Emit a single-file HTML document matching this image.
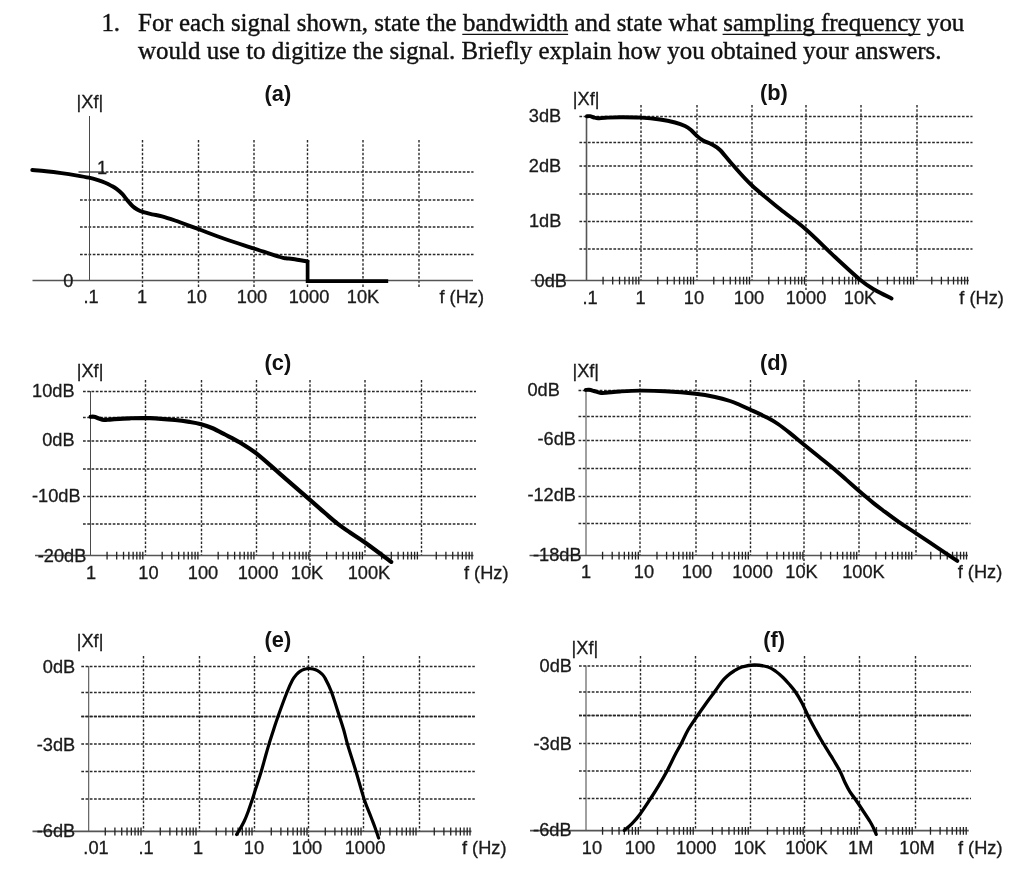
<!DOCTYPE html>
<html lang="en"><head><meta charset="utf-8"><title>Signals</title>
<style>html,body{margin:0;padding:0;background:#fff}svg{display:block}</style></head>
<body>
<svg width="1024" height="893" viewBox="0 0 1024 893">
<rect x="0" y="0" width="1024" height="893" fill="#fff"/>
<g>
<g font-family="'Liberation Sans', Arial, Helvetica, sans-serif" fill="#1a1a1a" stroke-linecap="butt">
<path d="M80.00,200.00 H473.50" stroke="#2a2a2a" stroke-width="1.5" stroke-dasharray="2.7 1.55" fill="none"/>
<path d="M80.00,227.00 H473.50" stroke="#2a2a2a" stroke-width="1.5" stroke-dasharray="2.7 1.55" fill="none"/>
<path d="M80.00,254.50 H473.50" stroke="#2a2a2a" stroke-width="1.5" stroke-dasharray="2.7 1.55" fill="none"/>
<path d="M142.50,140.00 V287.00" stroke="#2a2a2a" stroke-width="1.4" stroke-dasharray="2.5 1.75" fill="none"/>
<path d="M198.50,140.00 V287.00" stroke="#2a2a2a" stroke-width="1.4" stroke-dasharray="2.5 1.75" fill="none"/>
<path d="M254.00,140.00 V287.00" stroke="#2a2a2a" stroke-width="1.4" stroke-dasharray="2.5 1.75" fill="none"/>
<path d="M307.50,140.00 V287.00" stroke="#2a2a2a" stroke-width="1.4" stroke-dasharray="2.5 1.75" fill="none"/>
<path d="M363.00,140.00 V287.00" stroke="#2a2a2a" stroke-width="1.4" stroke-dasharray="2.5 1.75" fill="none"/>
<path d="M419.00,140.00 V287.00" stroke="#2a2a2a" stroke-width="1.4" stroke-dasharray="2.5 1.75" fill="none"/>
<path d="M89.50,116.00 V280.50" stroke="#4a4a4a" stroke-width="1.05" fill="none"/>
<path d="M32.50,280.50 H473.00" stroke="#555" stroke-width="1.7" fill="none"/>
<path d="M78.5,172 H101.5" stroke="#444" stroke-width="1.4" fill="none"/>
<path d="M101.5,172 H473.5" stroke="#2a2a2a" stroke-width="1.5" stroke-dasharray="2.7 1.55" fill="none"/>
<path d="M32.30,170.00 C34.58,170.20 41.13,170.68 46.00,171.20 C50.87,171.72 56.50,172.42 61.50,173.10 C66.50,173.78 71.42,174.53 76.00,175.30 C80.58,176.07 85.33,176.88 89.00,177.70 C92.67,178.52 95.30,179.35 98.00,180.20 C100.70,181.05 103.03,181.90 105.20,182.80 C107.37,183.70 109.12,184.58 111.00,185.60 C112.88,186.62 114.55,187.43 116.50,188.90 C118.45,190.37 120.93,192.55 122.70,194.40 C124.47,196.25 125.43,198.03 127.10,200.00 C128.77,201.97 130.93,204.58 132.70,206.20 C134.47,207.82 136.03,208.75 137.70,209.70 C139.37,210.65 140.32,211.13 142.70,211.90 C145.08,212.67 148.78,213.57 152.00,214.30 C155.22,215.03 158.17,215.27 162.00,216.30 C165.83,217.33 169.00,218.38 175.00,220.50 C181.00,222.62 189.67,225.92 198.00,229.00 C206.33,232.08 215.67,235.75 225.00,239.00 C234.33,242.25 244.83,245.50 254.00,248.50 C263.17,251.50 274.67,255.37 280.00,257.00 C285.33,258.63 283.83,257.97 286.00,258.30 C288.17,258.63 289.45,258.47 293.00,259.00 C296.55,259.53 304.92,261.08 307.30,261.50" stroke="#000" stroke-width="3.9" fill="none" stroke-linecap="round" stroke-linejoin="round"/>
<path d="M307.6,260 V281.2 H388.2" stroke="#000" stroke-width="3.7" fill="none" stroke-linejoin="miter"/>
<text transform="translate(76.60,108.40) scale(1.030,1)" text-anchor="start" font-size="17.70" stroke="#1a1a1a" stroke-width="0.3">|Xf|</text>
<text transform="translate(97.00,174.00) scale(1.030,1)" text-anchor="start" font-size="17.70" stroke="#1a1a1a" stroke-width="0.3">1</text>
<text transform="translate(63.30,287.00) scale(1.030,1)" text-anchor="start" font-size="17.70" stroke="#1a1a1a" stroke-width="0.3">0</text>
<text transform="translate(91.00,303.40) scale(1.030,1)" text-anchor="middle" font-size="17.70" stroke="#1a1a1a" stroke-width="0.3">.1</text>
<text transform="translate(142.00,303.40) scale(1.030,1)" text-anchor="middle" font-size="17.70" stroke="#1a1a1a" stroke-width="0.3">1</text>
<text transform="translate(196.70,303.40) scale(1.030,1)" text-anchor="middle" font-size="17.70" stroke="#1a1a1a" stroke-width="0.3">10</text>
<text transform="translate(252.00,303.40) scale(1.030,1)" text-anchor="middle" font-size="17.70" stroke="#1a1a1a" stroke-width="0.3">100</text>
<text transform="translate(309.00,303.40) scale(1.030,1)" text-anchor="middle" font-size="17.70" stroke="#1a1a1a" stroke-width="0.3">1000</text>
<text transform="translate(363.00,303.40) scale(1.030,1)" text-anchor="middle" font-size="17.70" stroke="#1a1a1a" stroke-width="0.3">10K</text>
<text transform="translate(439.50,303.40) scale(1.030,1)" text-anchor="start" font-size="17.70" stroke="#1a1a1a" stroke-width="0.3">f (Hz)</text>
<text x="264.60" y="100.60" font-size="21.80" font-weight="bold" fill="#111">(a)</text>
<path d="M579.40,116.50 H972.50" stroke="#2a2a2a" stroke-width="1.5" stroke-dasharray="2.7 1.55" fill="none"/>
<path d="M579.40,142.50 H972.50" stroke="#2a2a2a" stroke-width="1.5" stroke-dasharray="2.7 1.55" fill="none"/>
<path d="M579.40,166.00 H972.50" stroke="#2a2a2a" stroke-width="1.5" stroke-dasharray="2.7 1.55" fill="none"/>
<path d="M579.40,194.00 H972.50" stroke="#2a2a2a" stroke-width="1.5" stroke-dasharray="2.7 1.55" fill="none"/>
<path d="M579.40,221.50 H972.50" stroke="#2a2a2a" stroke-width="1.5" stroke-dasharray="2.7 1.55" fill="none"/>
<path d="M579.40,249.00 H972.50" stroke="#2a2a2a" stroke-width="1.5" stroke-dasharray="2.7 1.55" fill="none"/>
<path d="M641.00,105.00 V280.00" stroke="#2a2a2a" stroke-width="1.4" stroke-dasharray="2.5 1.75" fill="none"/>
<path d="M697.00,105.00 V280.00" stroke="#2a2a2a" stroke-width="1.4" stroke-dasharray="2.5 1.75" fill="none"/>
<path d="M752.00,105.00 V280.00" stroke="#2a2a2a" stroke-width="1.4" stroke-dasharray="2.5 1.75" fill="none"/>
<path d="M806.00,105.00 V290.00" stroke="#2a2a2a" stroke-width="1.4" stroke-dasharray="2.5 1.75" fill="none"/>
<path d="M861.00,105.00 V280.00" stroke="#2a2a2a" stroke-width="1.4" stroke-dasharray="2.5 1.75" fill="none"/>
<path d="M917.00,105.00 V280.00" stroke="#2a2a2a" stroke-width="1.4" stroke-dasharray="2.5 1.75" fill="none"/>
<path d="M586.50,115.00 V280.50" stroke="#555" stroke-width="1.6" fill="none"/>
<path d="M530.70,280.50 H969.00" stroke="#555" stroke-width="1.7" fill="none"/>
<path d="M603.07,276.80V284.60M612.70,276.80V284.60M619.53,276.80V284.60M624.83,276.80V284.60M629.16,276.80V284.60M632.83,276.80V284.60M636.00,276.80V284.60M638.80,276.80V284.60M657.77,276.80V284.60M667.40,276.80V284.60M674.23,276.80V284.60M679.53,276.80V284.60M683.86,276.80V284.60M687.53,276.80V284.60M690.70,276.80V284.60M693.50,276.80V284.60M713.77,276.80V284.60M723.40,276.80V284.60M730.23,276.80V284.60M735.53,276.80V284.60M739.86,276.80V284.60M743.53,276.80V284.60M746.70,276.80V284.60M749.50,276.80V284.60M768.77,276.80V284.60M778.40,276.80V284.60M785.23,276.80V284.60M790.53,276.80V284.60M794.86,276.80V284.60M798.53,276.80V284.60M801.70,276.80V284.60M804.50,276.80V284.60M822.77,276.80V284.60M832.40,276.80V284.60M839.23,276.80V284.60M844.53,276.80V284.60M848.86,276.80V284.60M852.53,276.80V284.60M855.70,276.80V284.60M858.50,276.80V284.60M877.77,276.80V284.60M887.40,276.80V284.60M894.23,276.80V284.60M899.53,276.80V284.60M903.86,276.80V284.60M907.53,276.80V284.60M910.70,276.80V284.60M913.50,276.80V284.60M931.77,276.80V284.60M941.40,276.80V284.60M948.23,276.80V284.60M953.53,276.80V284.60M957.86,276.80V284.60M961.53,276.80V284.60M964.70,276.80V284.60M967.50,276.80V284.60" stroke="#222" stroke-width="1.3" fill="none"/>
<path d="M587.00,116.30 C587.50,116.28 588.83,116.00 590.00,116.20 C591.17,116.40 592.67,117.15 594.00,117.50 C595.33,117.85 596.17,118.25 598.00,118.30 C599.83,118.35 601.33,117.98 605.00,117.80 C608.67,117.62 614.00,117.23 620.00,117.20 C626.00,117.17 634.33,117.22 641.00,117.60 C647.67,117.98 654.33,118.68 660.00,119.50 C665.67,120.32 670.83,121.42 675.00,122.50 C679.17,123.58 682.33,124.75 685.00,126.00 C687.67,127.25 689.00,128.33 691.00,130.00 C693.00,131.67 695.00,134.25 697.00,136.00 C699.00,137.75 700.50,139.08 703.00,140.50 C705.50,141.92 709.17,142.92 712.00,144.50 C714.83,146.08 716.67,146.75 720.00,150.00 C723.33,153.25 726.67,158.08 732.00,164.00 C737.33,169.92 744.00,178.00 752.00,185.50 C760.00,193.00 771.00,201.67 780.00,209.00 C789.00,216.33 796.83,221.50 806.00,229.50 C815.17,237.50 825.83,248.50 835.00,257.00 C844.17,265.50 854.33,275.00 861.00,280.50 C867.67,286.00 869.92,287.00 875.00,290.00 C880.08,293.00 888.75,297.08 891.50,298.50" stroke="#000" stroke-width="3.9" fill="none" stroke-linecap="round" stroke-linejoin="round"/>
<text transform="translate(572.80,105.20) scale(1.030,1)" text-anchor="start" font-size="17.70" stroke="#1a1a1a" stroke-width="0.3">|Xf|</text>
<text transform="translate(561.20,122.10) scale(1.030,1)" text-anchor="end" font-size="17.70" stroke="#1a1a1a" stroke-width="0.3">3dB</text>
<text transform="translate(561.20,172.10) scale(1.030,1)" text-anchor="end" font-size="17.70" stroke="#1a1a1a" stroke-width="0.3">2dB</text>
<text transform="translate(561.30,227.00) scale(1.030,1)" text-anchor="end" font-size="17.70" stroke="#1a1a1a" stroke-width="0.3">1dB</text>
<text transform="translate(567.00,286.60) scale(1.030,1)" text-anchor="end" font-size="17.70" stroke="#1a1a1a" stroke-width="0.3">0dB</text>
<text transform="translate(590.00,303.60) scale(1.030,1)" text-anchor="middle" font-size="17.70" stroke="#1a1a1a" stroke-width="0.3">.1</text>
<text transform="translate(640.50,303.60) scale(1.030,1)" text-anchor="middle" font-size="17.70" stroke="#1a1a1a" stroke-width="0.3">1</text>
<text transform="translate(694.00,303.60) scale(1.030,1)" text-anchor="middle" font-size="17.70" stroke="#1a1a1a" stroke-width="0.3">10</text>
<text transform="translate(749.00,303.60) scale(1.030,1)" text-anchor="middle" font-size="17.70" stroke="#1a1a1a" stroke-width="0.3">100</text>
<text transform="translate(806.00,303.60) scale(1.030,1)" text-anchor="middle" font-size="17.70" stroke="#1a1a1a" stroke-width="0.3">1000</text>
<text transform="translate(860.00,303.60) scale(1.030,1)" text-anchor="middle" font-size="17.70" stroke="#1a1a1a" stroke-width="0.3">10K</text>
<text transform="translate(959.30,303.60) scale(1.030,1)" text-anchor="start" font-size="17.70" stroke="#1a1a1a" stroke-width="0.3">f (Hz)</text>
<text x="760.00" y="100.00" font-size="21.80" font-weight="bold" fill="#111">(b)</text>
<path d="M83.00,391.50 H476.00" stroke="#2a2a2a" stroke-width="1.5" stroke-dasharray="2.7 1.55" fill="none"/>
<path d="M83.00,417.50 H476.00" stroke="#2a2a2a" stroke-width="1.5" stroke-dasharray="2.7 1.55" fill="none"/>
<path d="M83.00,441.00 H476.00" stroke="#2a2a2a" stroke-width="1.5" stroke-dasharray="2.7 1.55" fill="none"/>
<path d="M83.00,469.00 H476.00" stroke="#2a2a2a" stroke-width="1.5" stroke-dasharray="2.7 1.55" fill="none"/>
<path d="M83.00,496.50 H476.00" stroke="#2a2a2a" stroke-width="1.5" stroke-dasharray="2.7 1.55" fill="none"/>
<path d="M83.00,524.00 H476.00" stroke="#2a2a2a" stroke-width="1.5" stroke-dasharray="2.7 1.55" fill="none"/>
<path d="M145.50,380.00 V555.50" stroke="#2a2a2a" stroke-width="1.4" stroke-dasharray="2.5 1.75" fill="none"/>
<path d="M201.50,380.00 V555.50" stroke="#2a2a2a" stroke-width="1.4" stroke-dasharray="2.5 1.75" fill="none"/>
<path d="M256.50,380.00 V555.50" stroke="#2a2a2a" stroke-width="1.4" stroke-dasharray="2.5 1.75" fill="none"/>
<path d="M310.00,380.00 V568.00" stroke="#2a2a2a" stroke-width="1.4" stroke-dasharray="2.5 1.75" fill="none"/>
<path d="M365.00,380.00 V555.50" stroke="#2a2a2a" stroke-width="1.4" stroke-dasharray="2.5 1.75" fill="none"/>
<path d="M421.50,380.00 V555.50" stroke="#2a2a2a" stroke-width="1.4" stroke-dasharray="2.5 1.75" fill="none"/>
<path d="M90.50,391.00 V555.50" stroke="#4a4a4a" stroke-width="1.05" fill="none"/>
<path d="M35.00,555.50 H473.50" stroke="#555" stroke-width="1.7" fill="none"/>
<path d="M107.07,551.80V559.60M116.70,551.80V559.60M123.53,551.80V559.60M128.83,551.80V559.60M133.16,551.80V559.60M136.83,551.80V559.60M140.00,551.80V559.60M142.80,551.80V559.60M162.17,551.80V559.60M171.80,551.80V559.60M178.63,551.80V559.60M183.93,551.80V559.60M188.26,551.80V559.60M191.93,551.80V559.60M195.10,551.80V559.60M197.90,551.80V559.60M218.17,551.80V559.60M227.80,551.80V559.60M234.63,551.80V559.60M239.93,551.80V559.60M244.26,551.80V559.60M247.93,551.80V559.60M251.10,551.80V559.60M253.90,551.80V559.60M273.17,551.80V559.60M282.80,551.80V559.60M289.63,551.80V559.60M294.93,551.80V559.60M299.26,551.80V559.60M302.93,551.80V559.60M306.10,551.80V559.60M308.90,551.80V559.60M326.67,551.80V559.60M336.30,551.80V559.60M343.13,551.80V559.60M348.43,551.80V559.60M352.76,551.80V559.60M356.43,551.80V559.60M359.60,551.80V559.60M362.40,551.80V559.60M381.67,551.80V559.60M391.30,551.80V559.60M398.13,551.80V559.60M403.43,551.80V559.60M407.76,551.80V559.60M411.43,551.80V559.60M414.60,551.80V559.60M417.40,551.80V559.60M436.27,551.80V559.60M445.90,551.80V559.60M452.73,551.80V559.60M458.03,551.80V559.60M462.36,551.80V559.60M466.03,551.80V559.60M469.20,551.80V559.60M472.00,551.80V559.60" stroke="#222" stroke-width="1.3" fill="none"/>
<path d="M90.60,416.80 C91.17,416.80 92.60,416.52 94.00,416.80 C95.40,417.08 97.33,417.97 99.00,418.50 C100.67,419.03 101.83,419.87 104.00,420.00 C106.17,420.13 107.67,419.58 112.00,419.30 C116.33,419.02 123.67,418.48 130.00,418.30 C136.33,418.12 142.50,417.92 150.00,418.20 C157.50,418.48 168.33,419.37 175.00,420.00 C181.67,420.63 185.67,421.30 190.00,422.00 C194.33,422.70 197.33,423.20 201.00,424.20 C204.67,425.20 208.00,426.28 212.00,428.00 C216.00,429.72 220.33,432.08 225.00,434.50 C229.67,436.92 234.83,439.38 240.00,442.50 C245.17,445.62 249.33,447.98 256.00,453.20 C262.67,458.42 271.10,466.10 280.00,473.80 C288.90,481.50 301.90,492.87 309.40,499.40 C316.90,505.93 320.32,508.97 325.00,513.00 C329.68,517.03 333.33,520.35 337.50,523.60 C341.67,526.85 345.42,529.35 350.00,532.50 C354.58,535.65 358.13,537.60 365.00,542.50 C371.87,547.40 386.83,558.67 391.20,561.90" stroke="#000" stroke-width="4.2" fill="none" stroke-linecap="round" stroke-linejoin="round"/>
<text transform="translate(76.70,377.20) scale(1.030,1)" text-anchor="start" font-size="17.70" stroke="#1a1a1a" stroke-width="0.3">|Xf|</text>
<text transform="translate(74.60,397.20) scale(1.030,1)" text-anchor="end" font-size="17.70" stroke="#1a1a1a" stroke-width="0.3">10dB</text>
<text transform="translate(74.60,446.20) scale(1.030,1)" text-anchor="end" font-size="17.70" stroke="#1a1a1a" stroke-width="0.3">0dB</text>
<text transform="translate(80.60,502.20) scale(1.030,1)" text-anchor="end" font-size="17.70" stroke="#1a1a1a" stroke-width="0.3">-10dB</text>
<text transform="translate(86.40,562.00) scale(1.030,1)" text-anchor="end" font-size="17.70" stroke="#1a1a1a" stroke-width="0.3">-20dB</text>
<text transform="translate(91.00,578.70) scale(1.030,1)" text-anchor="middle" font-size="17.70" stroke="#1a1a1a" stroke-width="0.3">1</text>
<text transform="translate(148.50,578.70) scale(1.030,1)" text-anchor="middle" font-size="17.70" stroke="#1a1a1a" stroke-width="0.3">10</text>
<text transform="translate(203.00,578.70) scale(1.030,1)" text-anchor="middle" font-size="17.70" stroke="#1a1a1a" stroke-width="0.3">100</text>
<text transform="translate(258.00,578.70) scale(1.030,1)" text-anchor="middle" font-size="17.70" stroke="#1a1a1a" stroke-width="0.3">1000</text>
<text transform="translate(307.00,578.70) scale(1.030,1)" text-anchor="middle" font-size="17.70" stroke="#1a1a1a" stroke-width="0.3">10K</text>
<text transform="translate(369.00,578.70) scale(1.030,1)" text-anchor="middle" font-size="17.70" stroke="#1a1a1a" stroke-width="0.3">100K</text>
<text transform="translate(464.00,578.70) scale(1.030,1)" text-anchor="start" font-size="17.70" stroke="#1a1a1a" stroke-width="0.3">f (Hz)</text>
<text x="264.60" y="370.00" font-size="21.80" font-weight="bold" fill="#111">(c)</text>
<path d="M578.50,390.50 H970.50" stroke="#2a2a2a" stroke-width="1.5" stroke-dasharray="2.7 1.55" fill="none"/>
<path d="M578.50,416.50 H970.50" stroke="#2a2a2a" stroke-width="1.5" stroke-dasharray="2.7 1.55" fill="none"/>
<path d="M578.50,440.50 H970.50" stroke="#2a2a2a" stroke-width="1.5" stroke-dasharray="2.7 1.55" fill="none"/>
<path d="M578.50,468.50 H970.50" stroke="#2a2a2a" stroke-width="1.5" stroke-dasharray="2.7 1.55" fill="none"/>
<path d="M578.50,496.50 H970.50" stroke="#2a2a2a" stroke-width="1.5" stroke-dasharray="2.7 1.55" fill="none"/>
<path d="M578.50,523.50 H970.50" stroke="#2a2a2a" stroke-width="1.5" stroke-dasharray="2.7 1.55" fill="none"/>
<path d="M640.00,380.00 V555.00" stroke="#2a2a2a" stroke-width="1.4" stroke-dasharray="2.5 1.75" fill="none"/>
<path d="M696.00,380.00 V555.00" stroke="#2a2a2a" stroke-width="1.4" stroke-dasharray="2.5 1.75" fill="none"/>
<path d="M750.50,380.00 V555.00" stroke="#2a2a2a" stroke-width="1.4" stroke-dasharray="2.5 1.75" fill="none"/>
<path d="M804.00,380.00 V568.00" stroke="#2a2a2a" stroke-width="1.4" stroke-dasharray="2.5 1.75" fill="none"/>
<path d="M859.00,380.00 V555.00" stroke="#2a2a2a" stroke-width="1.4" stroke-dasharray="2.5 1.75" fill="none"/>
<path d="M916.00,380.00 V555.00" stroke="#2a2a2a" stroke-width="1.4" stroke-dasharray="2.5 1.75" fill="none"/>
<path d="M586.00,390.00 V555.50" stroke="#4a4a4a" stroke-width="1.05" fill="none"/>
<path d="M529.50,555.50 H968.00" stroke="#555" stroke-width="1.7" fill="none"/>
<path d="M602.57,551.80V559.60M612.20,551.80V559.60M619.03,551.80V559.60M624.33,551.80V559.60M628.66,551.80V559.60M632.33,551.80V559.60M635.50,551.80V559.60M638.30,551.80V559.60M656.97,551.80V559.60M666.60,551.80V559.60M673.43,551.80V559.60M678.73,551.80V559.60M683.06,551.80V559.60M686.73,551.80V559.60M689.90,551.80V559.60M692.70,551.80V559.60M712.57,551.80V559.60M722.20,551.80V559.60M729.03,551.80V559.60M734.33,551.80V559.60M738.66,551.80V559.60M742.33,551.80V559.60M745.50,551.80V559.60M748.30,551.80V559.60M767.17,551.80V559.60M776.80,551.80V559.60M783.63,551.80V559.60M788.93,551.80V559.60M793.26,551.80V559.60M796.93,551.80V559.60M800.10,551.80V559.60M802.90,551.80V559.60M820.97,551.80V559.60M830.60,551.80V559.60M837.43,551.80V559.60M842.73,551.80V559.60M847.06,551.80V559.60M850.73,551.80V559.60M853.90,551.80V559.60M856.70,551.80V559.60M875.97,551.80V559.60M885.60,551.80V559.60M892.43,551.80V559.60M897.73,551.80V559.60M902.06,551.80V559.60M905.73,551.80V559.60M908.90,551.80V559.60M911.70,551.80V559.60M930.77,551.80V559.60M940.40,551.80V559.60M947.23,551.80V559.60M952.53,551.80V559.60M956.86,551.80V559.60M960.53,551.80V559.60M963.70,551.80V559.60M966.50,551.80V559.60" stroke="#222" stroke-width="1.3" fill="none"/>
<path d="M585.80,390.00 C586.33,389.97 587.63,389.63 589.00,389.80 C590.37,389.97 592.17,390.50 594.00,391.00 C595.83,391.50 598.00,392.50 600.00,392.80 C602.00,393.10 602.67,393.02 606.00,392.80 C609.33,392.58 614.33,391.87 620.00,391.50 C625.67,391.13 632.50,390.65 640.00,390.60 C647.50,390.55 655.72,390.67 665.00,391.20 C674.28,391.73 687.37,392.83 695.70,393.80 C704.03,394.77 709.28,395.80 715.00,397.00 C720.72,398.20 725.83,399.67 730.00,401.00 C734.17,402.33 736.67,403.58 740.00,405.00 C743.33,406.42 745.33,407.33 750.00,409.50 C754.67,411.67 763.33,415.58 768.00,418.00 C772.67,420.42 774.33,421.48 778.00,424.00 C781.67,426.52 785.60,429.60 790.00,433.10 C794.40,436.60 799.57,441.05 804.40,445.00 C809.23,448.95 814.12,452.85 819.00,456.80 C823.88,460.75 829.12,464.85 833.70,468.70 C838.28,472.55 842.22,476.15 846.50,479.90 C850.78,483.65 856.32,488.50 859.40,491.20 C862.48,493.90 862.65,494.12 865.00,496.10 C867.35,498.08 870.58,500.78 873.50,503.10 C876.42,505.42 878.30,506.87 882.50,510.00 C886.70,513.13 893.03,517.97 898.70,521.90 C904.37,525.83 910.12,529.37 916.50,533.60 C922.88,537.83 930.20,542.75 937.00,547.30 C943.80,551.85 953.92,558.63 957.30,560.90" stroke="#000" stroke-width="3.9" fill="none" stroke-linecap="round" stroke-linejoin="round"/>
<text transform="translate(572.40,377.20) scale(1.030,1)" text-anchor="start" font-size="17.70" stroke="#1a1a1a" stroke-width="0.3">|Xf|</text>
<text transform="translate(559.80,396.00) scale(1.030,1)" text-anchor="end" font-size="17.70" stroke="#1a1a1a" stroke-width="0.3">0dB</text>
<text transform="translate(576.00,445.00) scale(1.030,1)" text-anchor="end" font-size="17.70" stroke="#1a1a1a" stroke-width="0.3">-6dB</text>
<text transform="translate(576.00,501.20) scale(1.030,1)" text-anchor="end" font-size="17.70" stroke="#1a1a1a" stroke-width="0.3">-12dB</text>
<text transform="translate(581.60,561.20) scale(1.030,1)" text-anchor="end" font-size="17.70" stroke="#1a1a1a" stroke-width="0.3">-18dB</text>
<text transform="translate(586.00,577.70) scale(1.030,1)" text-anchor="middle" font-size="17.70" stroke="#1a1a1a" stroke-width="0.3">1</text>
<text transform="translate(644.00,577.70) scale(1.030,1)" text-anchor="middle" font-size="17.70" stroke="#1a1a1a" stroke-width="0.3">10</text>
<text transform="translate(697.00,577.70) scale(1.030,1)" text-anchor="middle" font-size="17.70" stroke="#1a1a1a" stroke-width="0.3">100</text>
<text transform="translate(752.50,577.70) scale(1.030,1)" text-anchor="middle" font-size="17.70" stroke="#1a1a1a" stroke-width="0.3">1000</text>
<text transform="translate(801.50,577.70) scale(1.030,1)" text-anchor="middle" font-size="17.70" stroke="#1a1a1a" stroke-width="0.3">10K</text>
<text transform="translate(863.50,577.70) scale(1.030,1)" text-anchor="middle" font-size="17.70" stroke="#1a1a1a" stroke-width="0.3">100K</text>
<text transform="translate(957.70,577.70) scale(1.030,1)" text-anchor="start" font-size="17.70" stroke="#1a1a1a" stroke-width="0.3">f (Hz)</text>
<text x="760.00" y="369.70" font-size="21.80" font-weight="bold" fill="#111">(d)</text>
<path d="M81.30,666.50 H474.80" stroke="#2a2a2a" stroke-width="1.5" stroke-dasharray="2.7 1.55" fill="none"/>
<path d="M81.30,692.50 H474.80" stroke="#2a2a2a" stroke-width="1.5" stroke-dasharray="2.7 1.55" fill="none"/>
<path d="M81.30,716.50 H474.80" stroke="#2a2a2a" stroke-width="1.5" stroke-dasharray="2.7 1.55" fill="none"/>
<path d="M81.30,744.00 H474.80" stroke="#2a2a2a" stroke-width="1.5" stroke-dasharray="2.7 1.55" fill="none"/>
<path d="M81.30,771.50 H474.80" stroke="#2a2a2a" stroke-width="1.5" stroke-dasharray="2.7 1.55" fill="none"/>
<path d="M81.30,799.00 H474.80" stroke="#2a2a2a" stroke-width="1.5" stroke-dasharray="2.7 1.55" fill="none"/>
<path d="M143.50,656.00 V831.00" stroke="#2a2a2a" stroke-width="1.4" stroke-dasharray="2.5 1.75" fill="none"/>
<path d="M199.50,656.00 V831.00" stroke="#2a2a2a" stroke-width="1.4" stroke-dasharray="2.5 1.75" fill="none"/>
<path d="M254.50,656.00 V831.00" stroke="#2a2a2a" stroke-width="1.4" stroke-dasharray="2.5 1.75" fill="none"/>
<path d="M308.50,656.00 V843.00" stroke="#2a2a2a" stroke-width="1.4" stroke-dasharray="2.5 1.75" fill="none"/>
<path d="M363.50,656.00 V831.00" stroke="#2a2a2a" stroke-width="1.4" stroke-dasharray="2.5 1.75" fill="none"/>
<path d="M419.50,656.00 V831.00" stroke="#2a2a2a" stroke-width="1.4" stroke-dasharray="2.5 1.75" fill="none"/>
<path d="M88.70,666.00 V831.30" stroke="#4a4a4a" stroke-width="1.05" fill="none"/>
<path d="M32.50,831.30 H471.50" stroke="#555" stroke-width="1.7" fill="none"/>
<path d="M105.27,827.60V835.40M114.90,827.60V835.40M121.73,827.60V835.40M127.03,827.60V835.40M131.36,827.60V835.40M135.03,827.60V835.40M138.20,827.60V835.40M141.00,827.60V835.40M160.27,827.60V835.40M169.90,827.60V835.40M176.73,827.60V835.40M182.03,827.60V835.40M186.36,827.60V835.40M190.03,827.60V835.40M193.20,827.60V835.40M196.00,827.60V835.40M216.27,827.60V835.40M225.90,827.60V835.40M232.73,827.60V835.40M238.03,827.60V835.40M242.36,827.60V835.40M246.03,827.60V835.40M249.20,827.60V835.40M252.00,827.60V835.40M271.27,827.60V835.40M280.90,827.60V835.40M287.73,827.60V835.40M293.03,827.60V835.40M297.36,827.60V835.40M301.03,827.60V835.40M304.20,827.60V835.40M307.00,827.60V835.40M325.27,827.60V835.40M334.90,827.60V835.40M341.73,827.60V835.40M347.03,827.60V835.40M351.36,827.60V835.40M355.03,827.60V835.40M358.20,827.60V835.40M361.00,827.60V835.40M380.27,827.60V835.40M389.90,827.60V835.40M396.73,827.60V835.40M402.03,827.60V835.40M406.36,827.60V835.40M410.03,827.60V835.40M413.20,827.60V835.40M416.00,827.60V835.40M434.27,827.60V835.40M443.90,827.60V835.40M450.73,827.60V835.40M456.03,827.60V835.40M460.36,827.60V835.40M464.03,827.60V835.40M467.20,827.60V835.40M470.00,827.60V835.40" stroke="#222" stroke-width="1.3" fill="none"/>
<path d="M81.30,716.50 H474.80" stroke="#262626" stroke-width="1.55" stroke-dasharray="3.2 1.05" stroke-dashoffset="0.25" fill="none"/>
<path d="M236.60,834.50 C237.17,833.58 238.73,831.20 240.00,829.00 C241.27,826.80 242.87,824.13 244.20,821.30 C245.53,818.47 246.67,815.58 248.00,812.00 C249.33,808.42 250.93,803.62 252.20,799.80 C253.47,795.98 254.13,793.68 255.60,789.10 C257.07,784.52 259.32,777.90 261.00,772.30 C262.68,766.70 264.37,760.20 265.70,755.50 C267.03,750.80 267.70,748.35 269.00,744.10 C270.30,739.85 271.98,734.65 273.50,730.00 C275.02,725.35 275.87,722.45 278.10,716.20 C280.33,709.95 284.50,698.53 286.90,692.50 C289.30,686.47 290.90,683.00 292.50,680.00 C294.10,677.00 295.25,675.95 296.50,674.50 C297.75,673.05 298.67,672.18 300.00,671.30 C301.33,670.42 303.03,669.67 304.50,669.20 C305.97,668.73 307.38,668.53 308.80,668.50 C310.22,668.47 311.55,668.65 313.00,669.00 C314.45,669.35 316.08,669.83 317.50,670.60 C318.92,671.37 320.25,672.35 321.50,673.60 C322.75,674.85 323.38,675.15 325.00,678.10 C326.62,681.05 328.80,684.95 331.20,691.30 C333.60,697.65 337.31,709.75 339.40,716.20 C341.49,722.65 342.40,725.33 343.75,730.00 C345.10,734.67 345.46,737.28 347.50,744.20 C349.54,751.12 353.25,762.42 356.00,771.50 C358.75,780.58 361.50,791.12 364.00,798.70 C366.50,806.28 369.17,812.20 371.00,817.00 C372.83,821.80 373.73,824.00 375.00,827.50 C376.27,831.00 378.00,836.25 378.60,838.00" stroke="#000" stroke-width="3.2" fill="none" stroke-linecap="round" stroke-linejoin="round"/>
<text transform="translate(76.70,646.90) scale(1.030,1)" text-anchor="start" font-size="17.70" stroke="#1a1a1a" stroke-width="0.3">|Xf|</text>
<text transform="translate(75.20,672.80) scale(1.030,1)" text-anchor="end" font-size="17.70" stroke="#1a1a1a" stroke-width="0.3">0dB</text>
<text transform="translate(75.20,751.00) scale(1.030,1)" text-anchor="end" font-size="17.70" stroke="#1a1a1a" stroke-width="0.3">-3dB</text>
<text transform="translate(75.20,837.00) scale(1.030,1)" text-anchor="end" font-size="17.70" stroke="#1a1a1a" stroke-width="0.3">-6dB</text>
<text transform="translate(96.00,854.40) scale(1.030,1)" text-anchor="middle" font-size="17.70" stroke="#1a1a1a" stroke-width="0.3">.01</text>
<text transform="translate(146.00,854.40) scale(1.030,1)" text-anchor="middle" font-size="17.70" stroke="#1a1a1a" stroke-width="0.3">.1</text>
<text transform="translate(198.00,854.40) scale(1.030,1)" text-anchor="middle" font-size="17.70" stroke="#1a1a1a" stroke-width="0.3">1</text>
<text transform="translate(254.00,854.40) scale(1.030,1)" text-anchor="middle" font-size="17.70" stroke="#1a1a1a" stroke-width="0.3">10</text>
<text transform="translate(307.00,854.40) scale(1.030,1)" text-anchor="middle" font-size="17.70" stroke="#1a1a1a" stroke-width="0.3">100</text>
<text transform="translate(365.00,854.40) scale(1.030,1)" text-anchor="middle" font-size="17.70" stroke="#1a1a1a" stroke-width="0.3">1000</text>
<text transform="translate(462.00,854.40) scale(1.030,1)" text-anchor="start" font-size="17.70" stroke="#1a1a1a" stroke-width="0.3">f (Hz)</text>
<text x="264.50" y="646.50" font-size="21.80" font-weight="bold" fill="#111">(e)</text>
<path d="M579.00,666.00 H971.00" stroke="#2a2a2a" stroke-width="1.5" stroke-dasharray="2.7 1.55" fill="none"/>
<path d="M579.00,692.00 H971.00" stroke="#2a2a2a" stroke-width="1.5" stroke-dasharray="2.7 1.55" fill="none"/>
<path d="M579.00,715.50 H971.00" stroke="#2a2a2a" stroke-width="1.5" stroke-dasharray="2.7 1.55" fill="none"/>
<path d="M579.00,743.50 H971.00" stroke="#2a2a2a" stroke-width="1.5" stroke-dasharray="2.7 1.55" fill="none"/>
<path d="M579.00,771.00 H971.00" stroke="#2a2a2a" stroke-width="1.5" stroke-dasharray="2.7 1.55" fill="none"/>
<path d="M579.00,798.50 H971.00" stroke="#2a2a2a" stroke-width="1.5" stroke-dasharray="2.7 1.55" fill="none"/>
<path d="M640.50,656.00 V830.50" stroke="#2a2a2a" stroke-width="1.4" stroke-dasharray="2.5 1.75" fill="none"/>
<path d="M695.50,656.00 V830.50" stroke="#2a2a2a" stroke-width="1.4" stroke-dasharray="2.5 1.75" fill="none"/>
<path d="M750.50,656.00 V830.50" stroke="#2a2a2a" stroke-width="1.4" stroke-dasharray="2.5 1.75" fill="none"/>
<path d="M804.50,656.00 V843.00" stroke="#2a2a2a" stroke-width="1.4" stroke-dasharray="2.5 1.75" fill="none"/>
<path d="M859.50,656.00 V830.50" stroke="#2a2a2a" stroke-width="1.4" stroke-dasharray="2.5 1.75" fill="none"/>
<path d="M915.50,656.00 V830.50" stroke="#2a2a2a" stroke-width="1.4" stroke-dasharray="2.5 1.75" fill="none"/>
<path d="M586.00,665.50 V830.60" stroke="#4a4a4a" stroke-width="1.05" fill="none"/>
<path d="M530.00,830.60 H968.80" stroke="#555" stroke-width="1.7" fill="none"/>
<path d="M602.57,826.90V834.70M612.20,826.90V834.70M619.03,826.90V834.70M624.33,826.90V834.70M628.66,826.90V834.70M632.33,826.90V834.70M635.50,826.90V834.70M638.30,826.90V834.70M657.47,826.90V834.70M667.10,826.90V834.70M673.93,826.90V834.70M679.23,826.90V834.70M683.56,826.90V834.70M687.23,826.90V834.70M690.40,826.90V834.70M693.20,826.90V834.70M712.47,826.90V834.70M722.10,826.90V834.70M728.93,826.90V834.70M734.23,826.90V834.70M738.56,826.90V834.70M742.23,826.90V834.70M745.40,826.90V834.70M748.20,826.90V834.70M767.47,826.90V834.70M777.10,826.90V834.70M783.93,826.90V834.70M789.23,826.90V834.70M793.56,826.90V834.70M797.23,826.90V834.70M800.40,826.90V834.70M803.20,826.90V834.70M821.47,826.90V834.70M831.10,826.90V834.70M837.93,826.90V834.70M843.23,826.90V834.70M847.56,826.90V834.70M851.23,826.90V834.70M854.40,826.90V834.70M857.20,826.90V834.70M876.47,826.90V834.70M886.10,826.90V834.70M892.93,826.90V834.70M898.23,826.90V834.70M902.56,826.90V834.70M906.23,826.90V834.70M909.40,826.90V834.70M912.20,826.90V834.70M930.47,826.90V834.70M940.10,826.90V834.70M946.93,826.90V834.70M952.23,826.90V834.70M956.56,826.90V834.70M960.23,826.90V834.70M963.40,826.90V834.70M966.20,826.90V834.70" stroke="#222" stroke-width="1.3" fill="none"/>
<path d="M579.00,715.50 H971.00" stroke="#262626" stroke-width="1.55" stroke-dasharray="3.2 1.05" stroke-dashoffset="0.25" fill="none"/>
<path d="M624.40,830.30 C625.67,829.18 629.40,826.28 632.00,823.60 C634.60,820.92 636.90,818.38 640.00,814.20 C643.10,810.02 647.48,803.27 650.60,798.50 C653.72,793.73 655.98,790.15 658.70,785.60 C661.42,781.05 664.18,776.30 666.90,771.20 C669.62,766.10 672.62,759.58 675.00,755.00 C677.38,750.42 679.03,747.87 681.20,743.70 C683.37,739.53 685.50,734.37 688.00,730.00 C690.50,725.63 693.20,721.92 696.20,717.50 C699.20,713.08 702.95,707.75 706.00,703.50 C709.05,699.25 711.83,695.67 714.50,692.00 C717.17,688.33 719.92,684.13 722.00,681.50 C724.08,678.87 725.00,677.95 727.00,676.20 C729.00,674.45 731.50,672.53 734.00,671.00 C736.50,669.47 738.58,668.00 742.00,667.00 C745.42,666.00 750.17,665.00 754.50,665.00 C758.83,665.00 764.42,665.92 768.00,667.00 C771.58,668.08 773.50,669.75 776.00,671.50 C778.50,673.25 780.83,675.42 783.00,677.50 C785.17,679.58 786.92,681.58 789.00,684.00 C791.08,686.42 793.33,688.83 795.50,692.00 C797.67,695.17 799.92,699.05 802.00,703.00 C804.08,706.95 805.83,711.37 808.00,715.70 C810.17,720.03 812.80,724.95 815.00,729.00 C817.20,733.05 818.50,735.47 821.20,740.00 C823.90,744.53 828.07,751.00 831.20,756.20 C834.33,761.40 837.70,766.82 840.00,771.20 C842.30,775.58 843.33,779.05 845.00,782.50 C846.67,785.95 848.33,789.18 850.00,791.90 C851.67,794.62 852.92,795.78 855.00,798.80 C857.08,801.82 860.00,806.22 862.50,810.00 C865.00,813.78 868.17,818.50 870.00,821.50 C871.83,824.50 872.47,825.85 873.50,828.00 C874.53,830.15 875.75,833.33 876.20,834.40" stroke="#000" stroke-width="3.3" fill="none" stroke-linecap="round" stroke-linejoin="round"/>
<text transform="translate(571.50,653.90) scale(1.030,1)" text-anchor="start" font-size="17.70" stroke="#1a1a1a" stroke-width="0.3">|Xf|</text>
<text transform="translate(572.00,672.30) scale(1.030,1)" text-anchor="end" font-size="17.70" stroke="#1a1a1a" stroke-width="0.3">0dB</text>
<text transform="translate(572.00,749.80) scale(1.030,1)" text-anchor="end" font-size="17.70" stroke="#1a1a1a" stroke-width="0.3">-3dB</text>
<text transform="translate(571.60,836.30) scale(1.030,1)" text-anchor="end" font-size="17.70" stroke="#1a1a1a" stroke-width="0.3">-6dB</text>
<text transform="translate(592.00,853.60) scale(1.030,1)" text-anchor="middle" font-size="17.70" stroke="#1a1a1a" stroke-width="0.3">10</text>
<text transform="translate(640.00,853.60) scale(1.030,1)" text-anchor="middle" font-size="17.70" stroke="#1a1a1a" stroke-width="0.3">100</text>
<text transform="translate(696.20,853.60) scale(1.030,1)" text-anchor="middle" font-size="17.70" stroke="#1a1a1a" stroke-width="0.3">1000</text>
<text transform="translate(750.00,853.60) scale(1.030,1)" text-anchor="middle" font-size="17.70" stroke="#1a1a1a" stroke-width="0.3">10K</text>
<text transform="translate(806.50,853.60) scale(1.030,1)" text-anchor="middle" font-size="17.70" stroke="#1a1a1a" stroke-width="0.3">100K</text>
<text transform="translate(860.70,853.60) scale(1.030,1)" text-anchor="middle" font-size="17.70" stroke="#1a1a1a" stroke-width="0.3">1M</text>
<text transform="translate(917.00,853.60) scale(1.030,1)" text-anchor="middle" font-size="17.70" stroke="#1a1a1a" stroke-width="0.3">10M</text>
<text transform="translate(958.00,853.60) scale(1.030,1)" text-anchor="start" font-size="17.70" stroke="#1a1a1a" stroke-width="0.3">f (Hz)</text>
<text x="763.20" y="646.50" font-size="21.80" font-weight="bold" fill="#111">(f)</text>
</g>
<g font-family="'Liberation Serif', 'Times New Roman', serif" font-size="24.94" fill="#111" stroke="#111" stroke-width="0.4">
<text x="101.4" y="30.9">1.</text>
<text x="138.1" y="30.9">For each signal shown, state the <tspan>bandwidth</tspan> and state what <tspan>sampling frequency</tspan> you</text>
<text x="138.1" y="59.2">would use to digitize the signal. Briefly explain how you obtained your answers.</text>
<path d="M462.3,34.3 H568.1 M722.6,34.3 H920.4" stroke="#111" stroke-width="1.15" fill="none"/>
</g>
</g>
</svg>
</body></html>
